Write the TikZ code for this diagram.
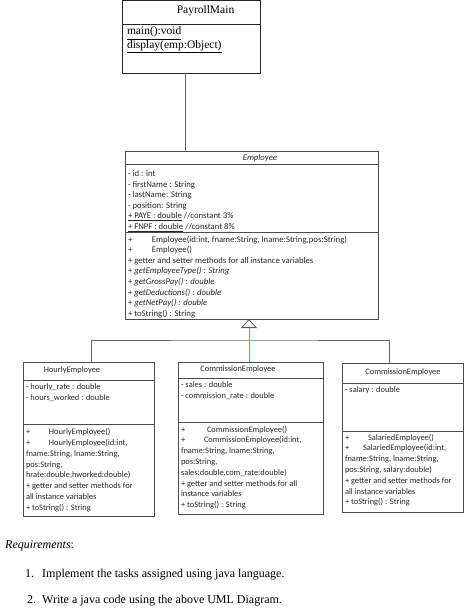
\documentclass[tikz,border=0pt]{standalone}
\usepackage{fontspec}
\setmainfont{Liberation Serif}
\newfontfamily\calfont{Carlito}
\usetikzlibrary{arrows.meta}
\tikzset{
  box/.style={draw=black!70, line width=0.8pt, anchor=north west, inner sep=0pt, outer sep=0pt},
  pmbox/.style={box, draw=black!85},
  txt/.style={anchor=north west, inner sep=0pt, outer sep=0pt, align=left, text=black!85,
              font=\calfont\fontsize{8.7}{10.6}\selectfont},
  subtxt/.style={txt, font=\calfont\fontsize{8.4}{10.8}\selectfont},
  ttl/.style={anchor=center, inner sep=0pt, text=black!85, font=\calfont\fontsize{8.4}{10}\selectfont},
  pmtxt/.style={inner sep=0pt, outer sep=0pt, align=left, font=\fontsize{11.5}{12}\selectfont},
  reqtxt/.style={anchor=base west, inner sep=0pt, font=\fontsize{12}{14}\selectfont},
  conn/.style={draw=black!60, line width=0.8pt},
  inh/.style={draw=blue!40!cyan!60!black!60, line width=0.8pt},
}
\begin{document}
\begin{tikzpicture}[x=1pt,y=-1pt]
\useasboundingbox (0,0) rectangle (474,609);

% PayrollMain
\node[pmbox, minimum width=138pt, minimum height=23.5pt] (pmT) at (122,0.5) {};
\node[pmbox, minimum width=138pt, minimum height=49pt] (pmO) at (122,24) {};
\node[pmtxt, anchor=center] (pmTt) at (205.5,11) {PayrollMain};
\node[pmtxt, anchor=north west] (pmOt) at (127,27) {\underline{main():void}\\\underline{display(emp:Object)}};

% Employee
\node[box, minimum width=253pt, minimum height=13.5pt] (empT) at (125,151) {};
\node[box, minimum width=253pt, minimum height=68pt] (empA) at (125,164.5) {};
\node[box, minimum width=253pt, minimum height=86.5pt] (empM) at (125,232.5) {};
\node[ttl, font=\calfont\itshape\fontsize{8.7}{10}\selectfont] (empTt) at (260,158.5) {Employee};
\node[txt] (empAt) at (128,170.5) {- id : int\\
- firstName : String\\
- lastName: String\\
- position: String\\
\underline{+ PAYE : double} //constant 3\%\\
\underline{+ FNPF : double} //constant 8\%};
\node[txt] (empMt) at (128,235.8) {\makebox[24pt][l]{+}Employee(id:int, fname:String, lname:String,pos:String)\\
\makebox[24pt][l]{+}Employee()\\
+ getter and setter methods for all instance variables\\
+ \textit{getEmployeeType() : String}\\
+ \textit{getGrossPay() : double}\\
+ \textit{getDeductions() : double}\\
+ \textit{getNetPay() : double}\\
+ toString() : String};

% HourlyEmployee
\node[box, minimum width=131pt, minimum height=18pt] (houT) at (23,362) {};
\node[box, minimum width=131pt, minimum height=44pt] (houA) at (23,380) {};
\node[box, minimum width=131pt, minimum height=92pt] (houM) at (23,424) {};
\node[ttl] (houTt) at (72,370) {HourlyEmployee};
\node[subtxt] (houAt) at (26,383.5) {- hourly\_rate : double\\- hours\_worked : double};
\node[subtxt] (houMt) at (26,428.5) {\makebox[23pt][l]{+}HourlyEmployee()\\
\makebox[23pt][l]{+}HourlyEmployee(id:int,\\
fname:String, lname:String,\\
pos:String,\\
hrate:double,hworked:double)\\
+ getter and setter methods for\\
all instance variables\\
+ toString() : String};

% CommissionEmployee
\node[box, minimum width=145pt, minimum height=16pt] (comT) at (178,362) {};
\node[box, minimum width=145pt, minimum height=44pt] (comA) at (178,378) {};
\node[box, minimum width=145pt, minimum height=92pt] (comM) at (178,422) {};
\node[ttl] (comTt) at (238,369) {CommissionEmployee};
\node[subtxt] (comAt) at (181,381.5) {- sales : double\\- commission\_rate : double};
\node[subtxt] (comMt) at (181,426) {\makebox[26pt][l]{+}CommissionEmployee()\\
\makebox[23pt][l]{+}CommissionEmployee(id:int,\\
fname:String, lname:String,\\
pos:String,\\
sales:double,com\_rate:double)\\
+ getter and setter methods for all\\
instance variables\\
+ toString() : String};

% Salaried (labelled CommissionEmployee)
\node[box, minimum width=121pt, minimum height=20pt] (salT) at (342,363) {};
\node[box, minimum width=121pt, minimum height=48pt] (salA) at (342,383) {};
\node[box, minimum width=121pt, minimum height=81pt] (salM) at (342,431) {};
\node[ttl] (salTt) at (403,372) {CommissionEmployee};
\node[subtxt] (salAt) at (345,386.5) {- salary : double};
\node[subtxt] (salMt) at (345,434) {\makebox[23pt][l]{+}SalariedEmployee()\\
\makebox[18pt][l]{+}SalariedEmployee(id:int,\\
fname:String, lname:String,\\
pos:String, salary:double)\\
+ getter and setter methods for\\
all instance variables\\
+ toString() : String};

% connectors
\draw[conn] ([xshift=-6pt]pmO.south) -- ([xshift=-6pt]pmO.south |- empT.north);
\coordinate (hj) at (249,340);
\draw[conn] ([xshift=2.5pt]houT.north) |- (hj) -| ([xshift=-13.5pt]salT.north);
\draw[inh, -{Triangle[open, length=9pt, width=16pt, color=black!65, line width=0.8pt]}]
  ([xshift=-1.5pt]comT.north) -- ([xshift=-1.5pt]comT.north |- empM.south);

% Requirements
\node[reqtxt] (req) at (5,548.5) {\textit{Requirements}:};
\node[reqtxt] (n1) at (25,577.5) {1.};
\node[reqtxt] (i1) at (42,577.5) {Implement the tasks assigned using java language.};
\node[reqtxt] (n2) at (27,603.5) {2.};
\node[reqtxt] (i2) at (42,603.5) {Write a java code using the above UML Diagram.};
\end{tikzpicture}
\end{document}
